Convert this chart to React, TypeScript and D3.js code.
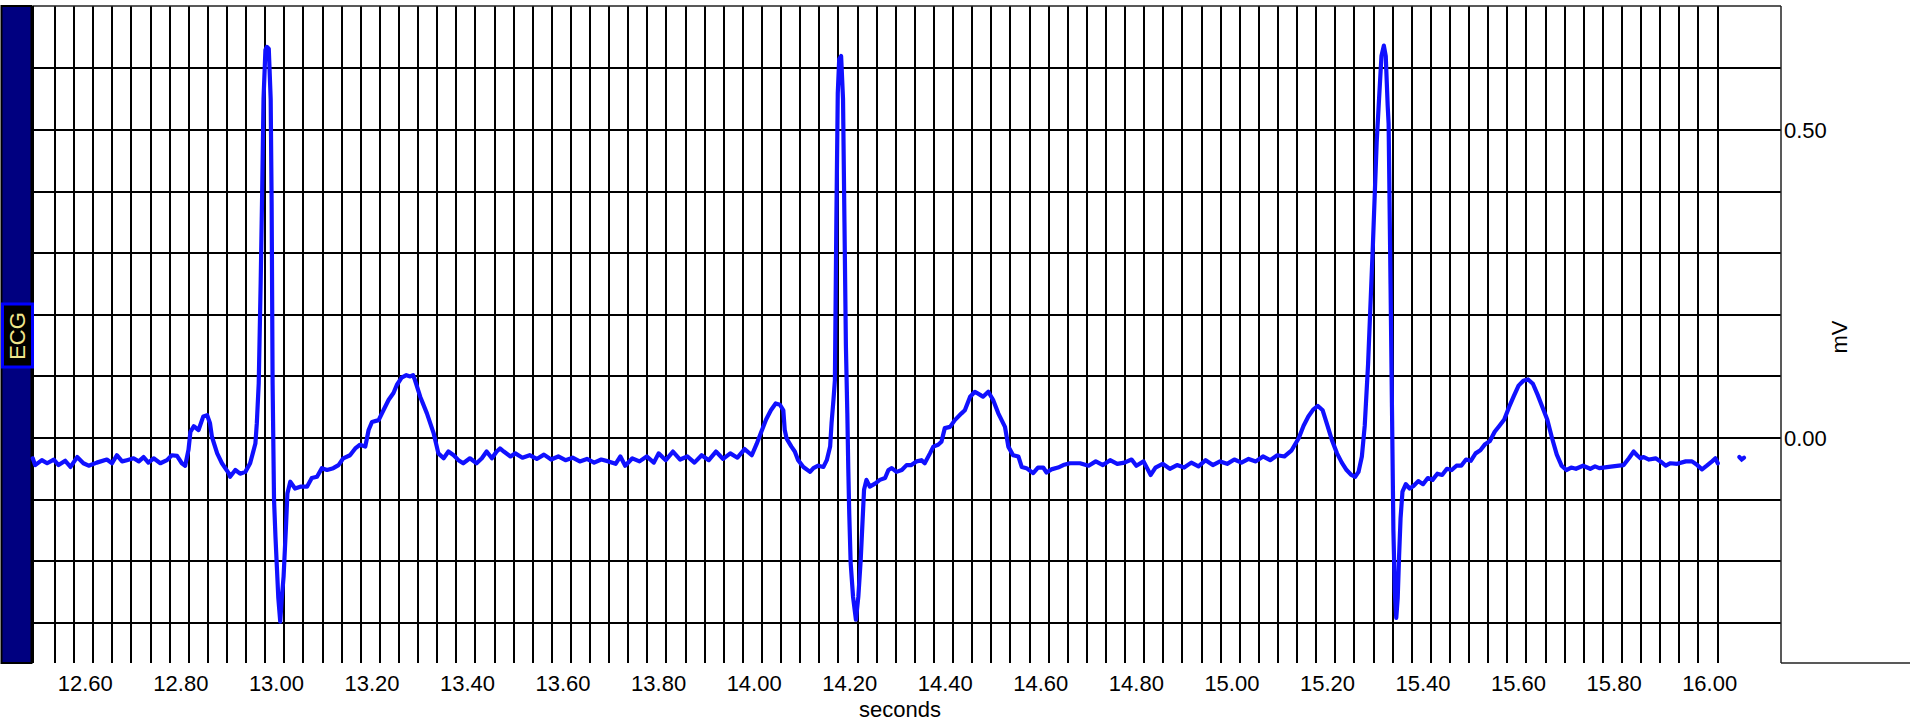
import * as d3 from 'd3';

// ECG trace (seconds, mV)
const ecgTime = [
  12.490, 12.495, 12.509, 12.520, 12.534, 12.544, 12.558, 12.569, 12.583, 12.596,
  12.607, 12.624, 12.645, 12.656, 12.666, 12.677, 12.687, 12.701, 12.712, 12.722,
  12.732, 12.743, 12.757, 12.771, 12.781, 12.792, 12.802, 12.809, 12.816, 12.820,
  12.827, 12.837, 12.847, 12.855, 12.861, 12.865, 12.876, 12.886, 12.900, 12.903,
  12.914, 12.924, 12.935, 12.945, 12.956, 12.959, 12.963, 12.967, 12.970, 12.973,
  12.977, 12.980, 12.984, 12.988, 12.990, 12.992, 12.995, 12.998, 13.001, 13.004,
  13.008, 13.011, 13.015, 13.020, 13.023, 13.029, 13.039, 13.050, 13.064, 13.074,
  13.085, 13.095, 13.106, 13.119, 13.130, 13.140, 13.154, 13.165, 13.175, 13.186,
  13.193, 13.200, 13.214, 13.224, 13.235, 13.245, 13.252, 13.262, 13.272, 13.280,
  13.286, 13.290, 13.301, 13.315, 13.329, 13.339, 13.350, 13.360, 13.371, 13.381,
  13.391, 13.405, 13.419, 13.430, 13.440, 13.451, 13.461, 13.468,
  13.476, 13.490, 13.500, 13.515, 13.530, 13.545, 13.560, 13.575, 13.590, 13.605,
  13.620, 13.635, 13.650, 13.665, 13.680, 13.695, 13.710, 13.720, 13.730, 13.745,
  13.760, 13.775, 13.790, 13.800, 13.815, 13.830, 13.845, 13.860, 13.875, 13.890,
  13.905, 13.920, 13.935, 13.950, 13.965, 13.980, 13.995,
  14.005, 14.015, 14.025, 14.035, 14.045, 14.054, 14.061, 14.064, 14.068, 14.078,
  14.085, 14.092, 14.103, 14.117, 14.124, 14.134, 14.145, 14.152, 14.159, 14.162,
  14.166, 14.169, 14.172, 14.175, 14.178, 14.182, 14.186, 14.189, 14.192, 14.195,
  14.197, 14.199, 14.202, 14.207, 14.213, 14.218, 14.223, 14.227, 14.230, 14.235,
  14.242, 14.253, 14.263, 14.274, 14.281, 14.288, 14.298, 14.309, 14.319, 14.329,
  14.340, 14.350, 14.357, 14.368, 14.375, 14.385, 14.392, 14.399, 14.410, 14.420,
  14.434, 14.441, 14.452, 14.462, 14.473, 14.479, 14.490, 14.500, 14.511, 14.518,
  14.525, 14.532, 14.542, 14.553, 14.560, 14.570, 14.584, 14.594, 14.605, 14.612,
  14.622, 14.636, 14.647, 14.661, 14.682,
  14.700, 14.715, 14.730, 14.745, 14.760, 14.775, 14.790, 14.800, 14.815, 14.830,
  14.840, 14.855, 14.870, 14.885, 14.900, 14.915, 14.930, 14.945, 14.960, 14.975,
  14.990, 15.005, 15.020, 15.035, 15.050, 15.065, 15.080, 15.095, 15.110, 15.125,
  15.140, 15.150, 15.160, 15.170, 15.180, 15.190, 15.200, 15.210, 15.220, 15.230,
  15.240, 15.250, 15.258, 15.265, 15.272, 15.278, 15.285, 15.295, 15.303, 15.308,
  15.313, 15.318, 15.322, 15.326, 15.328, 15.332, 15.335, 15.338, 15.341, 15.344,
  15.347, 15.350, 15.353, 15.357, 15.364, 15.372, 15.380, 15.390, 15.400, 15.410,
  15.420, 15.430, 15.440, 15.450, 15.460, 15.470, 15.480, 15.490, 15.500, 15.510,
  15.520, 15.530, 15.540, 15.550, 15.560, 15.570, 15.580, 15.590, 15.600, 15.610,
  15.620, 15.630, 15.640, 15.650, 15.660, 15.670, 15.680, 15.690, 15.700, 15.710,
  15.720, 15.735, 15.750, 15.760,
  15.769, 15.789, 15.810, 15.820, 15.831, 15.841, 15.848, 15.855, 15.862, 15.873,
  15.887, 15.897, 15.908, 15.918, 15.932, 15.950, 15.963, 15.974, 15.984, 15.994,
  16.005, 16.012, 16.017,
];

const ecgMv = [
  -0.033, -0.044, -0.036, -0.041, -0.035, -0.044, -0.037, -0.047, -0.031, -0.041,
  -0.045, -0.040, -0.035, -0.041, -0.028, -0.038, -0.036, -0.033, -0.038, -0.031,
  -0.040, -0.033, -0.041, -0.036, -0.028, -0.029, -0.041, -0.045, -0.019, 0.010,
  0.019, 0.013, 0.035, 0.037, 0.024, 0.002, -0.025, -0.041, -0.057, -0.063,
  -0.052, -0.058, -0.055, -0.041, -0.009, 0.024, 0.089, 0.250, 0.390, 0.550,
  0.630, 0.635, 0.632, 0.550, 0.380, 0.090, -0.100, -0.160, -0.210, -0.260,
  -0.298, -0.263, -0.225, -0.144, -0.090, -0.071, -0.082, -0.079, -0.079, -0.065,
  -0.063, -0.049, -0.052, -0.049, -0.044, -0.033, -0.028, -0.017, -0.011, -0.014,
  0.013, 0.026, 0.029, 0.045, 0.062, 0.073, 0.086, 0.098, 0.102, 0.100,
  0.102, 0.094, 0.067, 0.040, 0.008, -0.025, -0.033, -0.022, -0.028, -0.036,
  -0.041, -0.033, -0.041, -0.033, -0.022, -0.033, -0.022, -0.017,
  -0.022, -0.030, -0.025, -0.032, -0.028, -0.034, -0.027, -0.035, -0.030, -0.036,
  -0.032, -0.038, -0.034, -0.040, -0.035, -0.038, -0.042, -0.030, -0.045, -0.033,
  -0.038, -0.030, -0.040, -0.025, -0.036, -0.022, -0.035, -0.030, -0.040, -0.028,
  -0.036, -0.022, -0.034, -0.025, -0.032, -0.018, -0.028,
  -0.010, 0.010, 0.030, 0.045, 0.056, 0.054, 0.045, 0.013, -0.001, -0.014,
  -0.022, -0.036, -0.047, -0.055, -0.049, -0.045, -0.047, -0.036, -0.014, 0.024,
  0.062, 0.094, 0.350, 0.560, 0.615, 0.620, 0.550, 0.350, 0.150, 0.040,
  -0.050, -0.122, -0.203, -0.258, -0.295, -0.258, -0.198, -0.133, -0.084, -0.068,
  -0.079, -0.074, -0.068, -0.065, -0.052, -0.049, -0.055, -0.052, -0.044, -0.044,
  -0.038, -0.036, -0.041, -0.025, -0.014, -0.011, -0.006, 0.016, 0.018, 0.029,
  0.040, 0.045, 0.067, 0.075, 0.070, 0.067, 0.075, 0.062, 0.040, 0.029,
  0.018, -0.014, -0.028, -0.030, -0.047, -0.049, -0.057, -0.048, -0.048, -0.056,
  -0.051, -0.048, -0.044, -0.041, -0.041,
  -0.045, -0.038, -0.044, -0.036, -0.042, -0.040, -0.035, -0.045, -0.038, -0.060,
  -0.048, -0.042, -0.050, -0.044, -0.048, -0.040, -0.046, -0.036, -0.044, -0.038,
  -0.042, -0.035, -0.040, -0.034, -0.038, -0.030, -0.036, -0.028, -0.030, -0.020,
  0.000, 0.020, 0.035, 0.046, 0.052, 0.045, 0.020, -0.005, -0.025, -0.040,
  -0.052, -0.060, -0.063, -0.055, -0.030, 0.020, 0.120, 0.312, 0.480, 0.551,
  0.620, 0.637, 0.620, 0.540, 0.510, 0.250, 0.050, -0.150, -0.250, -0.292,
  -0.260, -0.190, -0.130, -0.087, -0.075, -0.082, -0.078, -0.070, -0.075, -0.065,
  -0.068, -0.058, -0.060, -0.050, -0.052, -0.045, -0.045, -0.035, -0.037, -0.025,
  -0.020, -0.010, -0.005, 0.010, 0.020, 0.030, 0.050, 0.068, 0.085, 0.093,
  0.095, 0.088, 0.070, 0.050, 0.030, 0.000, -0.027, -0.045, -0.052, -0.048,
  -0.050, -0.045, -0.050, -0.046,
  -0.049, -0.047, -0.045, -0.044, -0.033, -0.022, -0.028, -0.033, -0.031, -0.035,
  -0.033, -0.038, -0.045, -0.041, -0.042, -0.038, -0.038, -0.044, -0.051, -0.045,
  -0.038, -0.033, -0.041,
];

// short detached fragment after the trace
const tailTime = [16.062, 16.067, 16.072];
const tailMv = [-0.031, -0.035, -0.032];

const xTickValues = [12.6, 12.8, 13.0, 13.2, 13.4, 13.6, 13.8, 14.0, 14.2, 14.4, 14.6, 14.8, 15.0, 15.2, 15.4, 15.6, 15.8, 16.0];
const yTickValues = [0, 0.5];
const yGridValues = [-0.3, -0.2, -0.1, 0, 0.1, 0.2, 0.3, 0.4, 0.5, 0.6];
const gridStart = 12.5365;
const gridStep = 0.04;
const gridCount = 88;

const W = 1926;
const H = 724;
const left = 33;
const right = 1781;
const top = 6;
const bottom = 663;
const font = '"Liberation Sans", Arial, sans-serif';

export default function App() {
  const x = d3.scaleLinear().domain([12.4905, 16.1493]).range([left, right]);
  const y = d3.scaleLinear().domain([-0.3653, 0.7013]).range([bottom, top]);

  const trace = ecgTime.map((t, i) => [t, ecgMv[i]] as [number, number]);
  const tail = tailTime.map((t, i) => [t, tailMv[i]] as [number, number]);
  const line = d3
    .line<[number, number]>()
    .x((d) => x(d[0]))
    .y((d) => y(d[1]));

  // grid lines snapped to whole pixels so the 2px strokes stay crisp
  const vGrid = d3.range(gridCount).map((k) => Math.round(x(gridStart + k * gridStep)));
  const hGrid = yGridValues.map((v) => Math.round(y(v)));

  return (
    <div style={{ position: 'absolute', left: 0, top: 0 }}>
      <svg width={W} height={H} style={{ display: 'block', background: '#fff' }}>
        {/* channel strip on the left */}
        <rect x={1.5} y={top} width={left - 3} height={bottom - top} fill="#000080" stroke="#000" strokeWidth={2} />

        {/* horizontal grid */}
        {hGrid.map((py, i) => (
          <line key={'h' + i} x1={left} x2={right} y1={py} y2={py} stroke="#000" strokeWidth={2} />
        ))}
        {/* vertical grid */}
        {vGrid.map((px, i) => (
          <line key={'v' + i} x1={px} x2={px} y1={top} y2={bottom} stroke="#000" strokeWidth={2} />
        ))}

        {/* frame */}
        <line x1={left} x2={right} y1={top} y2={top} stroke="#222" strokeWidth={1.5} />
        <line x1={left} x2={left} y1={top} y2={bottom} stroke="#000" strokeWidth={2} />
        <line x1={right} x2={right} y1={top} y2={bottom} stroke="#222" strokeWidth={1.5} />
        <line x1={right} x2={1910} y1={bottom} y2={bottom} stroke="#222" strokeWidth={1.5} />

        {/* trace */}
        <path d={line(trace) || ''} fill="none" stroke="#1010ff" strokeWidth={4.2} strokeLinejoin="round" strokeLinecap="round" />
        <path d={line(tail) || ''} fill="none" stroke="#1010ff" strokeWidth={4.2} strokeLinecap="round" />

        {/* x tick labels */}
        {xTickValues.map((t) => (
          <text key={'xt' + t} x={x(t)} y={691} textAnchor="middle" fontFamily={font} fontSize={22} fill="#000">
            {t.toFixed(2)}
          </text>
        ))}
        <text x={900} y={717} textAnchor="middle" fontFamily={font} fontSize={22} fill="#000">
          seconds
        </text>

        {/* y tick labels */}
        {yTickValues.map((v) => (
          <text key={'yt' + v} x={right + 3} y={y(v)} dy="0.36em" textAnchor="start" fontFamily={font} fontSize={22} fill="#000">
            {v.toFixed(2)}
          </text>
        ))}
        <text transform={`translate(1847,337) rotate(-90)`} textAnchor="middle" fontFamily={font} fontSize={22} fill="#000">
          mV
        </text>

        {/* channel label */}
        <rect x={2.5} y={304} width={30} height={63} fill="#000" stroke="#0000ff" strokeWidth={3} />
        <text transform={`translate(25,336) rotate(-90)`} textAnchor="middle" fontFamily={font} fontSize={22} fill="#f0e68c">
          ECG
        </text>
      </svg>
    </div>
  );
}
